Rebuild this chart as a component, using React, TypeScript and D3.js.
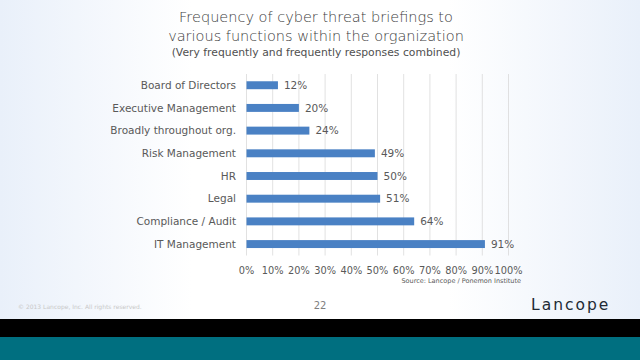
import * as d3 from 'd3'
import * as React from 'react'

const WIDTH = 640
const HEIGHT = 360

const categories = [
  'Board of Directors',
  'Executive Management',
  'Broadly throughout org.',
  'Risk Management',
  'HR',
  'Legal',
  'Compliance / Audit',
  'IT Management'
]
const values = [12, 20, 24, 49, 50, 51, 64, 91]
const ticks = [0, 10, 20, 30, 40, 50, 60, 70, 80, 90, 100]
const titleLines = [
  'Frequency of cyber threat briefings to',
  'various functions within the organization'
]
const subtitle = '(Very frequently and frequently responses combined)'

const FONT = "'DejaVu Sans', sans-serif"

export default function App() {
  const x = d3.scaleLinear().domain([0, 100]).range([246.5, 508.5])
  const y = d3
    .scaleBand<string>()
    .domain(categories)
    .range([74, 255.3])
    .paddingInner(0.65)
    .paddingOuter(0.32)

  return (
    <svg
      width={WIDTH}
      height={HEIGHT}
      style={{ position: 'absolute', left: 0, top: 0 }}
    >
      <defs>
        <linearGradient id="bg" x1="0" x2="1" y1="0" y2="0">
          <stop offset="0" stopColor="#e9f0fa" />
          <stop offset="0.3" stopColor="#ffffff" />
          <stop offset="0.7" stopColor="#ffffff" />
          <stop offset="1" stopColor="#e9f0fa" />
        </linearGradient>
      </defs>
      <rect width={WIDTH} height={319} fill="url(#bg)" />
      <rect y={319} width={WIDTH} height={18} fill="#000" />
      <rect y={337} width={WIDTH} height={23} fill="#006f80" />

      {/* title */}
      <g fontFamily={FONT} fill="#404040" textAnchor="middle">
        {titleLines.map((t, i) => (
          <text key={t} x={316} y={22 + i * 19} fontSize={14.5} fontWeight={300}>
            {t}
          </text>
        ))}
        <text x={316} y={56} fontSize={10.8} fill="#505050">
          {subtitle}
        </text>
      </g>

      {/* grid */}
      <g>
        {ticks.map(t => (
          <line
            key={t}
            x1={x(t)}
            x2={x(t)}
            y1={74}
            y2={255.5}
            stroke="#d9d9d9"
            strokeWidth={0.8}
          />
        ))}
      </g>

      {/* bars */}
      <g>
        {categories.map((c, i) => (
          <g key={c}>
            <rect
              x={x(0)}
              y={y(c)}
              width={x(values[i]) - x(0)}
              height={y.bandwidth()}
              fill="#4a81c4"
            />
            <text
              x={x(values[i]) + 6}
              y={(y(c) ?? 0) + y.bandwidth() / 2}
              dy="0.35em"
              fontFamily={FONT}
              fontSize={10.5}
              fill="#595959"
            >
              {values[i]}%
            </text>
            <text
              x={236}
              y={(y(c) ?? 0) + y.bandwidth() / 2}
              dy="0.35em"
              textAnchor="end"
              fontFamily={FONT}
              fontSize={10.5}
              fill="#595959"
            >
              {c}
            </text>
          </g>
        ))}
      </g>

      {/* x axis labels */}
      <g fontFamily={FONT} fontSize={9.8} fill="#595959" textAnchor="middle">
        {ticks.map(t => (
          <text key={t} x={x(t)} y={271} dy="0.35em">
            {t}%
          </text>
        ))}
      </g>
      <text
        x={521}
        y={281}
        dy="0.35em"
        textAnchor="end"
        fontFamily={FONT}
        fontSize={6.5}
        fill="#595959"
      >
        Source: Lancope / Ponemon Institute
      </text>

      {/* footer */}
      <text x={18} y={309} fontFamily={FONT} fontSize={6} fill="#c8c8c8">
        © 2013 Lancope, Inc. All rights reserved.
      </text>
      <text
        x={320}
        y={309}
        textAnchor="middle"
        fontFamily={FONT}
        fontSize={10}
        fill="#7f7f7f"
      >
        22
      </text>
      <text
        x={531}
        y={310}
        fontFamily={FONT}
        fontSize={15.5}
        letterSpacing={2}
        fill="#222a35"
      >
        Lancope
      </text>
    </svg>
  )
}
